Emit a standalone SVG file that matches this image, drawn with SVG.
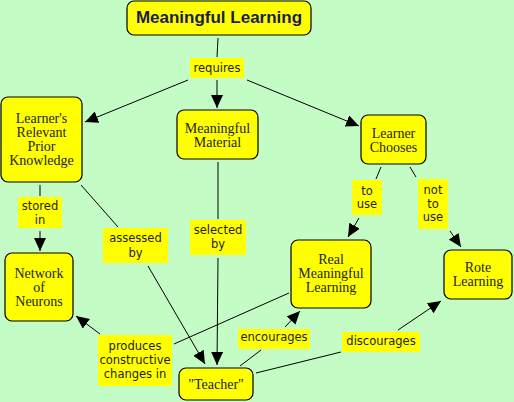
<svg xmlns="http://www.w3.org/2000/svg" width="514" height="402" viewBox="0 0 514 402">
<style>
.bg{fill:#c3fdc5}
.node{fill:#ffff00;stroke:#000;stroke-width:1.2}
.lab{fill:#ffff00}
.nt{font-family:"Liberation Serif","Times New Roman",serif;font-size:14px;fill:#1e1e1e;text-anchor:middle}
.lt{font-family:"DejaVu Sans","Liberation Sans",sans-serif;font-size:11.5px;fill:#1e1e1e;text-anchor:middle}
.tt{font-family:"Liberation Sans",Arial,sans-serif;font-size:17px;font-weight:bold;fill:#1c1c4e;text-anchor:middle}
.c{stroke:#000;stroke-width:1;fill:none}
.a{marker-end:url(#ah)}
</style>
<defs>
<marker id="ah" markerUnits="userSpaceOnUse" markerWidth="14" markerHeight="12" viewBox="0 0 14 12" refX="13" refY="6" orient="auto">
<path d="M0,0 L13,6 L0,12 Z" fill="#000"/>
</marker>
</defs>
<rect class="bg" x="0" y="0" width="514" height="402"/>
<g id="connectors">
<line class="c" x1="218" y1="38" x2="217" y2="57"/>
<line class="c a" x1="188" y1="80" x2="85" y2="122"/>
<line class="c a" x1="217" y1="80" x2="217" y2="108"/>
<line class="c a" x1="247" y1="80" x2="359" y2="126"/>
<line class="c" x1="40" y1="185" x2="40" y2="196"/>
<line class="c a" x1="40" y1="231" x2="40" y2="251"/>
<line class="c" x1="81" y1="185" x2="118" y2="227"/>
<line class="c a" x1="148" y1="266" x2="205" y2="364"/>
<line class="c" x1="218" y1="162" x2="218" y2="219"/>
<line class="c a" x1="218" y1="258" x2="217" y2="365"/>
<line class="c" x1="381" y1="167" x2="376" y2="179"/>
<line class="c a" x1="359" y1="218" x2="348" y2="237"/>
<line class="c" x1="410" y1="167" x2="416" y2="177"/>
<line class="c a" x1="450" y1="231" x2="461" y2="247"/>
<line class="c" x1="289" y1="293" x2="174" y2="344"/>
<line class="c a" x1="100" y1="334" x2="76" y2="316"/>
<line class="c" x1="240" y1="366" x2="261" y2="350"/>
<line class="c a" x1="285" y1="327" x2="300" y2="311"/>
<line class="c" x1="256" y1="373" x2="341" y2="352"/>
<line class="c a" x1="398" y1="330" x2="441" y2="301"/>
</g>
<g id="n-meaningful-learning">
<rect class="node" x="127" y="1" width="184" height="34" rx="7"/>
<text class="tt" x="219" y="23">Meaningful Learning</text>
</g>
<g id="l-requires">
<rect class="lab" x="190" y="58" width="54" height="20"/>
<text class="lt" x="217" y="72">requires</text>
</g>
<g id="n-prior-knowledge">
<rect class="node" x="1" y="97" width="81" height="85" rx="7"/>
<text class="nt" x="41.5" y="123">Learner's</text>
<text class="nt" x="41.5" y="137">Relevant</text>
<text class="nt" x="41.5" y="151">Prior</text>
<text class="nt" x="41.5" y="165">Knowledge</text>
</g>
<g id="n-meaningful-material">
<rect class="node" x="177" y="110" width="81" height="49" rx="7"/>
<text class="nt" x="217.5" y="133">Meaningful</text>
<text class="nt" x="217.5" y="147">Material</text>
</g>
<g id="n-learner-chooses">
<rect class="node" x="361" y="115" width="65" height="49" rx="7"/>
<text class="nt" x="393.5" y="138">Learner</text>
<text class="nt" x="393.5" y="152">Chooses</text>
</g>
<g id="l-stored-in">
<rect class="lab" x="18" y="197" width="44" height="31"/>
<text class="lt" x="40" y="210">stored</text>
<text class="lt" x="40" y="224">in</text>
</g>
<g id="l-assessed-by">
<rect class="lab" x="103" y="228" width="65" height="35"/>
<text class="lt" x="135.5" y="242">assessed</text>
<text class="lt" x="135.5" y="257">by</text>
</g>
<g id="l-selected-by">
<rect class="lab" x="190" y="220" width="56" height="35"/>
<text class="lt" x="218" y="234">selected</text>
<text class="lt" x="218" y="248">by</text>
</g>
<g id="l-to-use">
<rect class="lab" x="352" y="180" width="30" height="35"/>
<text class="lt" x="367" y="195">to</text>
<text class="lt" x="367" y="208">use</text>
</g>
<g id="l-not-to-use">
<rect class="lab" x="418" y="179" width="30" height="50"/>
<text class="lt" x="433" y="194">not</text>
<text class="lt" x="433" y="208">to</text>
<text class="lt" x="433" y="221">use</text>
</g>
<g id="n-network-of-neurons">
<rect class="node" x="5" y="253" width="68" height="68" rx="7"/>
<text class="nt" x="39" y="278">Network</text>
<text class="nt" x="39" y="292">of</text>
<text class="nt" x="39" y="306">Neurons</text>
</g>
<g id="n-real-meaningful-learning">
<rect class="node" x="291" y="240" width="80" height="68" rx="7"/>
<text class="nt" x="331" y="264">Real</text>
<text class="nt" x="331" y="278">Meaningful</text>
<text class="nt" x="331" y="292">Learning</text>
</g>
<g id="n-rote-learning">
<rect class="node" x="444" y="250" width="68" height="49" rx="7"/>
<text class="nt" x="478" y="272">Rote</text>
<text class="nt" x="478" y="286">Learning</text>
</g>
<g id="l-produces">
<rect class="lab" x="98" y="335" width="74" height="51"/>
<text class="lt" x="135" y="350">produces</text>
<text class="lt" x="135" y="364">constructive</text>
<text class="lt" x="135" y="378">changes in</text>
</g>
<g id="l-encourages">
<rect class="lab" x="238" y="329" width="72" height="20"/>
<text class="lt" x="274" y="341">encourages</text>
</g>
<g id="l-discourages">
<rect class="lab" x="342" y="332" width="78" height="20"/>
<text class="lt" x="381" y="345">discourages</text>
</g>
<g id="n-teacher">
<rect class="node" x="179" y="368" width="74" height="32" rx="7"/>
<text class="nt" x="216" y="389">"Teacher"</text>
</g>
</svg>
